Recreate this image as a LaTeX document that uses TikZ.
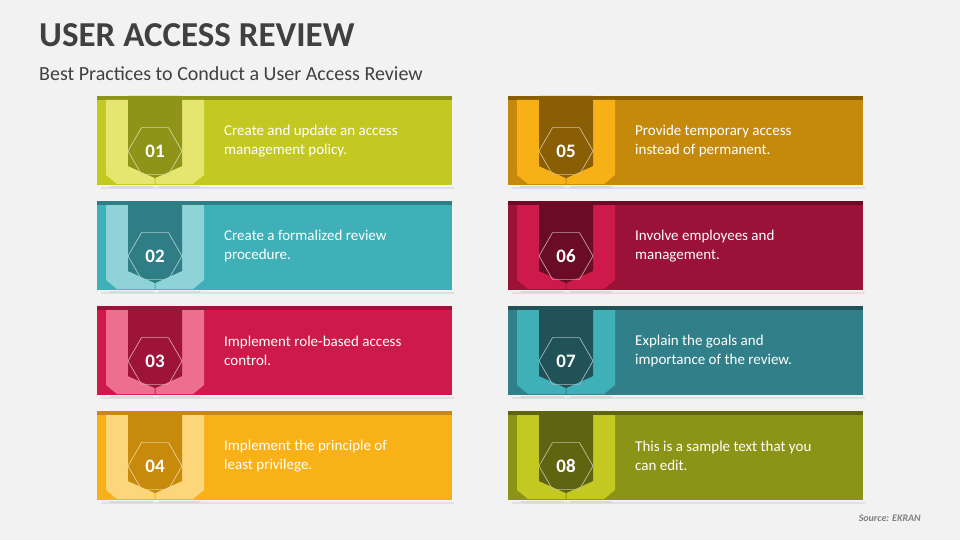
\documentclass[tikz,border=0pt]{standalone}
\usepackage{fontspec}
\setmainfont{Carlito}
\usetikzlibrary{shapes.geometric}
\definecolor{bg}{HTML}{F2F2F2}
\definecolor{ttl}{HTML}{404040}
\tikzset{
 cardtxt/.style={anchor=west,text=white,font=\fontsize{15}{19}\selectfont,align=left,inner sep=0pt},
 hexa/.style={regular polygon,regular polygon sides=6,minimum size=54pt,inner sep=0pt,draw=white!60!cdk,line width=0.7pt,text=white,font=\bfseries\fontsize{19}{19}\selectfont}
}
\newcommand\mycard[8]{%
 \definecolor{cbs}{HTML}{#5}\definecolor{cdk}{HTML}{#6}\definecolor{clt}{HTML}{#7}%
 \begin{scope}[shift={(#1,#2)}]
 \fill[black!12] (4,91) rectangle (357,93);
 \fill[cbs] (0,0) rectangle (355,89);
 \fill[cdk] (0,0) rectangle (355,4);
 \fill[black!15] (12,90) -- (56,90) -- (56,92) -- (14,92) -- cycle;
 \fill[black!15] (62,90) -- (104,90) -- (102,92) -- (62,92) -- cycle;
 \fill[clt] (9,4) -- (31,4) -- (31,70) -- (57.5,82) -- (57.5,88) -- (20,88) -- (9,79) -- cycle;
 \fill[clt] (107,4) -- (85,4) -- (85,70) -- (58.5,82) -- (58.5,88) -- (96,88) -- (107,79) -- cycle;
 \fill[cdk] (31,0) -- (85,0) -- (85,70) -- (58,82) -- (31,70) -- cycle;
 \node[hexa] (h#3) at (58,55) {#4};
 \node[cardtxt] (t#3) at (127,45) {#8};
 \end{scope}}
\begin{document}
\begin{tikzpicture}[x=1pt,y=-1pt]
\fill[bg] (0,0) rectangle (960,540);
\useasboundingbox (0,0) rectangle (960,540);
\node[anchor=west,inner sep=0pt,text=ttl,font=\bfseries\fontsize{35}{35}\selectfont] (title) at (39,35) {USER ACCESS REVIEW};
\node[anchor=west,inner sep=0pt,text=ttl,font=\fontsize{20}{20}\selectfont] (sub) at (39,74) {Best Practices to Conduct a User Access Review};
\mycard{97}{96}{a}{01}{C3C921}{8E9418}{E4E670}{Create and update an access\\management policy.}
\mycard{97}{201}{b}{02}{3FB0B8}{2F7E85}{8FD3D8}{Create a formalized review\\procedure.}
\mycard{97}{306}{c}{03}{CE1A4A}{9E1438}{EE6E90}{Implement role-based access\\control.}
\mycard{97}{411}{d}{04}{F8B116}{C78A0A}{FDD57A}{Implement the principle of\\least privilege.}
\mycard{508}{96}{e}{05}{C58A0C}{8A5E05}{F7B117}{Provide temporary access\\instead of permanent.}
\mycard{508}{201}{f}{06}{9B1238}{6A0C25}{CE1A4A}{Involve employees and\\management.}
\mycard{508}{306}{g}{07}{318089}{205257}{3FB0B8}{Explain the goals and\\importance of the review.}
\mycard{508}{411}{h}{08}{8C9418}{5E6410}{C3C921}{This is a sample text that you\\can edit.}
\node[anchor=east,inner sep=0pt,text=black!50,font=\bfseries\itshape\fontsize{10}{10}\selectfont] (src) at (921,518) {Source: EKRAN};
\end{tikzpicture}
\end{document}
